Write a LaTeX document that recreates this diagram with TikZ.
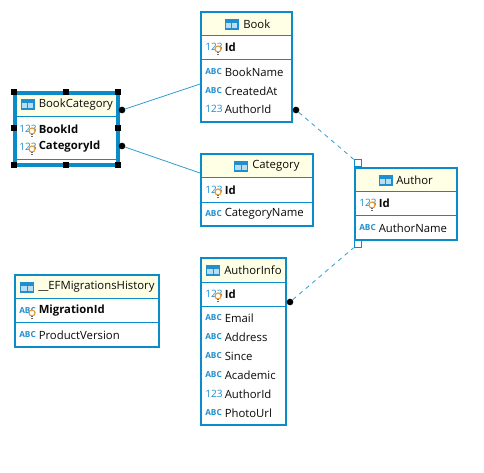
\documentclass[tikz,border=0pt]{standalone}
\usepackage{fontspec}
\setmainfont{Open Sans}
\definecolor{erblue}{HTML}{0A8CC8}
\definecolor{iconblue}{HTML}{1E8FD0}
\definecolor{hdr}{HTML}{FFFFE6}
\definecolor{bulb}{HTML}{E8962E}
\definecolor{ink}{HTML}{0A0A0A}
\tikzset{
  sepline/.style={draw=erblue,line width=.75pt},
  rowtext/.style={anchor=west,inner sep=0pt,font=\fontsize{8.5}{10}\selectfont,text=ink},
  keytext/.style={rowtext,font=\fontsize{8.5}{10}\selectfont\bfseries},
  numicon/.style={anchor=west,inner sep=0pt,font=\fontsize{7.6}{10}\selectfont,text=iconblue},
  abcicon/.style={anchor=west,inner sep=0pt,font=\fontsize{6.2}{8}\selectfont\bfseries,text=iconblue},
  rel/.style={draw=erblue!85,line width=.6pt},
  reldash/.style={rel,dash pattern=on 3.2pt off 3.2pt},
  dotend/.style={circle,fill=black,inner sep=0pt,minimum size=5pt},
  squareend/.style={rectangle,draw=erblue,fill=white,line width=.75pt,inner sep=0pt,minimum size=5.8pt},
  handle/.style={rectangle,fill=black,inner sep=0pt,minimum size=4.2pt},
}
% #1 name, #2 x1, #3 y1, #4 x2, #5 y2, #6 header bottom, #7 divider
\newcommand{\ertable}[7]{%
  \node[rectangle,draw=none,inner sep=0pt,minimum width=#4*.75pt-#2*.75pt,minimum height=#5*.75pt-#3*.75pt,anchor=north west] (#1) at (#2,#3) {};
  \fill[hdr] (#2,#3) rectangle (#4,#6);
  \draw[draw=erblue,line width=2.2pt] (#2,#3) rectangle (#4,#5);
  \draw[sepline] (#2,#6) -- (#4,#6);
  \draw[sepline] (#2,#7) -- (#4,#7);
}
\newcommand{\tblicon}[2]{%
  \begin{scope}[shift={(#1,#2)}]
    \fill[iconblue] (0,-5.5) rectangle (14,5.5);
    \fill[white!70!iconblue] (1.2,-.8) rectangle (6.5,4.3);
    \fill[white!70!iconblue] (7.5,-.8) rectangle (12.8,4.3);
  \end{scope}%
}
\newcommand{\keybulb}[2]{%
  \begin{scope}[shift={(#1,#2)}]
    \draw[bulb,line width=.8pt,fill=white] (0,-1) circle (3);
    \draw[black!60,line width=.8pt] (-1.2,2.6) -- (1.2,2.6) (-.9,4.2) -- (.9,4.2);
  \end{scope}%
}
\newcommand{\numrow}[4]{\node[numicon] (#1i) at (#2,#3) {123}; \node[rowtext] (#1) at (#2+19.5,#3) {#4};}
\newcommand{\abcrow}[4]{\node[abcicon] (#1i) at (#2,#3) {ABC}; \node[rowtext] (#1) at (#2+19.5,#3) {#4};}
\newcommand{\numkey}[4]{\node[numicon] (#1i) at (#2,#3) {123}; \keybulb{#2+13}{#3+3}\node[keytext] (#1) at (#2+19.5,#3) {#4};}
\newcommand{\abckey}[4]{\node[abcicon] (#1i) at (#2,#3) {ABC}; \keybulb{#2+13}{#3+3}\node[keytext] (#1) at (#2+19.5,#3) {#4};}
\begin{document}
\begin{tikzpicture}[x=.75pt,y=-.75pt]
\useasboundingbox (0,0) rectangle (484,472);
\fill[white] (0,0) rectangle (484,472);

% Book
\ertable{book}{201}{12}{292}{122}{35}{59}
\tblicon{224.5}{24}
\node[rowtext] (bookT) at (243,24) {Book};
\numkey{bookId}{205}{47}{Id}
\abcrow{bookName}{205}{72}{BookName}
\abcrow{bookCreated}{205}{91}{CreatedAt}
\numrow{bookAuthor}{205}{109}{AuthorId}

% BookCategory (selected)
\ertable{bc}{15}{92}{118}{165}{116}{159}
\draw[draw=erblue,line width=3pt] (15,92.5) rectangle (118,164.5);
\tblicon{20.5}{104}
\node[rowtext] (bcT) at (38.5,105) {BookCategory};
\numkey{bcBook}{19}{129}{BookId}
\numkey{bcCat}{19}{147}{CategoryId}
\foreach \hn/\hx/\hy in {a/14/92,b/66/92,c/118/92,d/14/128,e/118/128,f/14/165,g/66/165,h/118/165}
  \node[handle] (bcH\hn) at (\hx,\hy) {};

% Category
\ertable{cat}{201}{154}{313}{226}{177}{202}
\tblicon{234}{166}
\node[rowtext] (catT) at (252,166) {Category};
\numkey{catId}{205}{190}{Id}
\abcrow{catName}{205}{214}{CategoryName}

% Author
\ertable{auth}{355}{168}{457}{240}{191}{215}
\tblicon{378.5}{180}
\node[rowtext] (authT) at (396,180) {Author};
\numkey{authId}{359}{203}{Id}
\abcrow{authName}{359}{228}{AuthorName}

% AuthorInfo
\ertable{info}{201}{258}{286}{425}{282}{306}
\tblicon{206}{270}
\node[rowtext] (infoT) at (224,270) {AuthorInfo};
\numkey{infoId}{205}{294}{Id}
\abcrow{infoEmail}{205}{318}{Email}
\abcrow{infoAddr}{205}{337}{Address}
\abcrow{infoSince}{205}{356}{Since}
\abcrow{infoAcad}{205}{375}{Academic}
\numrow{infoAuth}{205}{394}{AuthorId}
\abcrow{infoPhoto}{205}{413}{PhotoUrl}

% __EFMigrationsHistory
\ertable{ef}{15}{275}{159}{347}{298}{322}
\tblicon{20}{287}
\node[rowtext] (efT) at (38,287) {\_\_EFMigrationsHistory};
\abckey{efId}{19}{311}{MigrationId}
\abcrow{efVer}{19}{335}{ProductVersion}

% relation ends
\node[dotend] (d1) at (122,110) {};
\node[dotend] (d2) at (122,146) {};
\node[dotend] (d3) at (296,110) {};
\node[dotend] (d4) at (290,302) {};
\node[squareend] (s1) at (358,163) {};
\node[squareend] (s2) at (358,244) {};
\coordinate (bookL) at (200,84);
\coordinate (catL) at (200,173);

\draw[rel] (d1) -- (bookL);
\draw[rel] (d2) -- (catL);
\draw[reldash] (d3) -- (s1);
\draw[reldash] (d4) -- (s2);
\end{tikzpicture}
\end{document}
